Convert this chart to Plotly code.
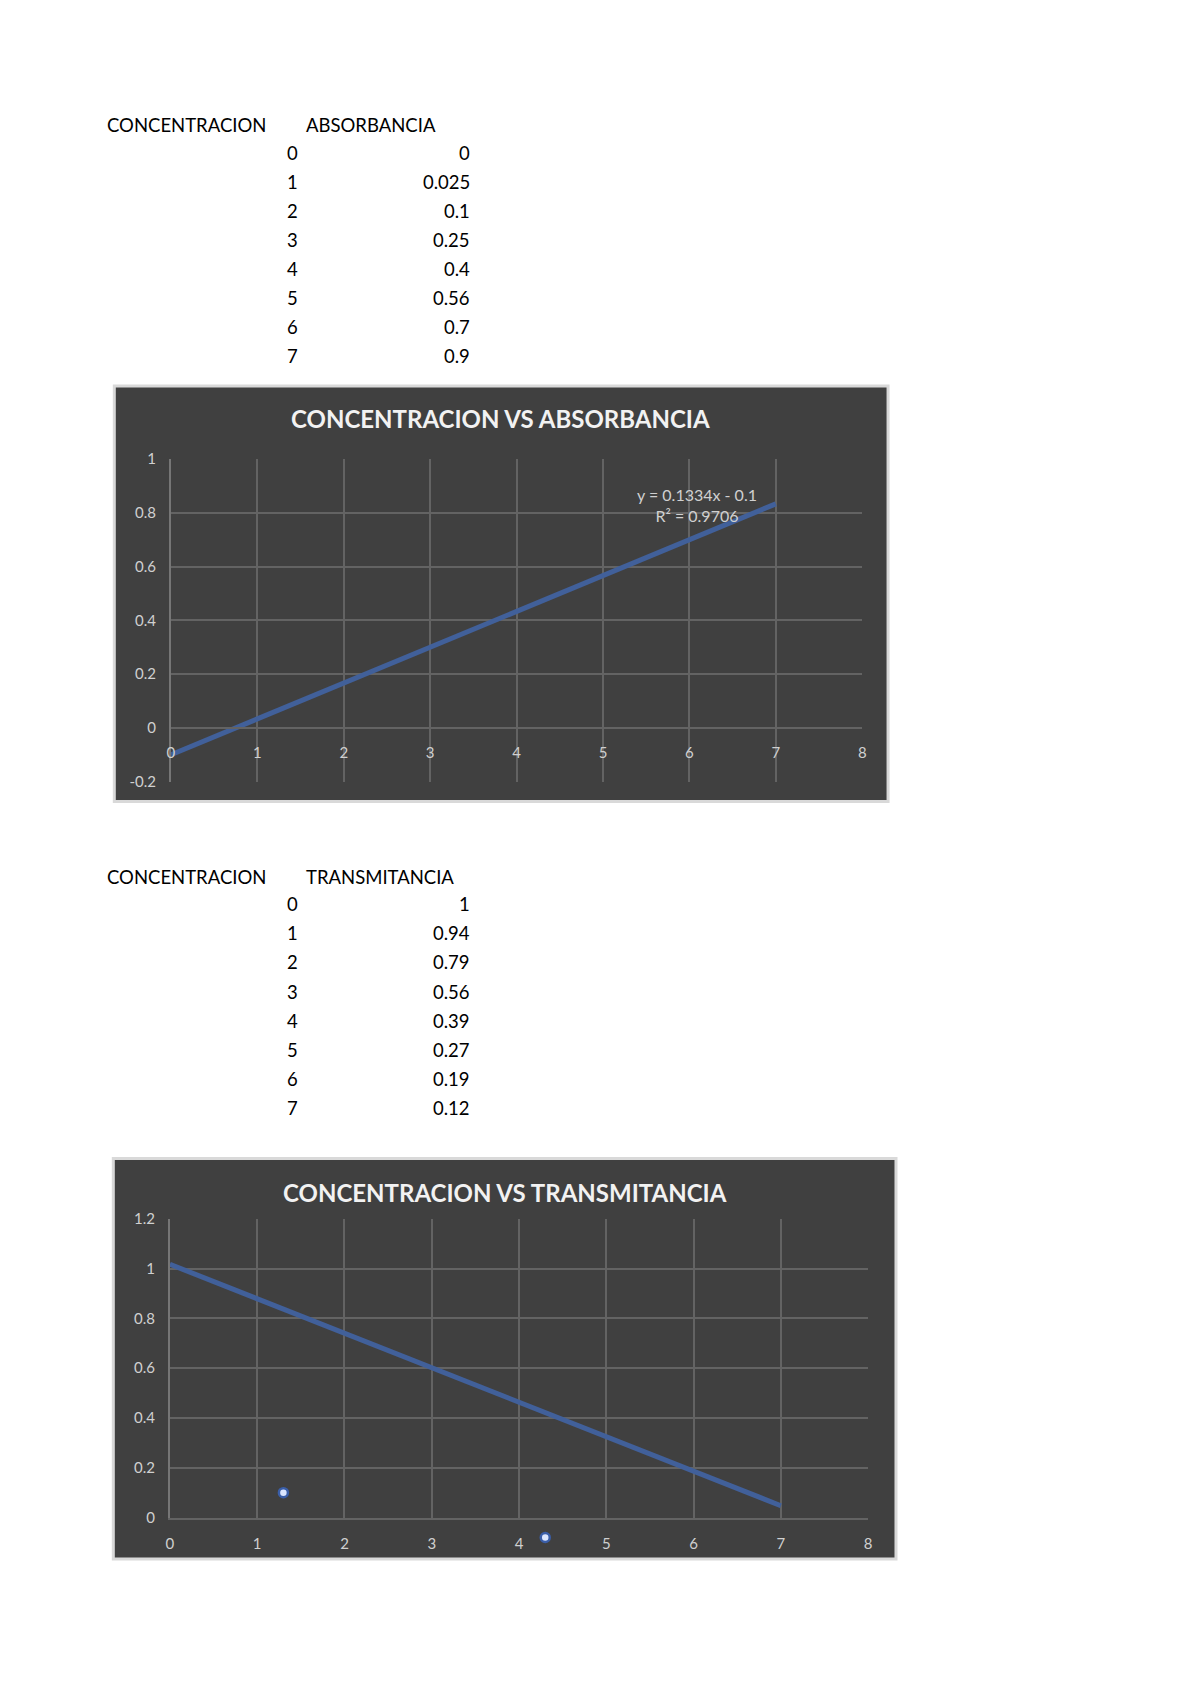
import numpy as np
import plotly.graph_objects as go

# datos de las tablas
concentracion = [0, 1, 2, 3, 4, 5, 6, 7]
absorbancia = [0, 0.025, 0.1, 0.25, 0.4, 0.56, 0.7, 0.9]
absorbancia_txt = ["0", "0.025", "0.1", "0.25", "0.4", "0.56", "0.7", "0.9"]
transmitancia = [1, 0.94, 0.79, 0.56, 0.39, 0.27, 0.19, 0.12]
transmitancia_txt = ["1", "0.94", "0.79", "0.56", "0.39", "0.27", "0.19", "0.12"]
# puntos sueltos que aparecen en el segundo grafico
sueltos_x = [1.3, 4.3]
sueltos_y = [0.1, -0.08]

# marcas de los ejes
x_ticks = [0, 1, 2, 3, 4, 5, 6, 7, 8]
y1_ticks = [-0.2, 0, 0.2, 0.4, 0.6, 0.8, 1]
y1_labels = ["-0.2", "0", "0.2", "0.4", "0.6", "0.8", "1"]
y2_ticks = [0, 0.2, 0.4, 0.6, 0.8, 1, 1.2]
y2_labels = ["0", "0.2", "0.4", "0.6", "0.8", "1", "1.2"]

# posiciones en pixeles de la pagina -> coordenadas paper
W, H = 1184, 1660
OX, OY = 13, 18
def px(x):
    return (x - OX) / W
def py(y):
    return 1 - (y - OY) / H

BG = "#404040"
GRID = "#636363"
TXT = "#d0d0d0"
LINEA = "#41609a"
FONT = "Lato"

# lineas de tendencia (minimos cuadrados, como Excel)
m1, b1 = np.polyfit(concentracion, absorbancia, 1)
pred = np.polyval([m1, b1], concentracion)
r2 = 1 - np.sum((np.array(absorbancia) - pred) ** 2) / np.sum((np.array(absorbancia) - np.mean(absorbancia)) ** 2)
m2, b2 = np.polyfit(concentracion, transmitancia, 1)
xt = [concentracion[0], concentracion[-1]]

fig = go.Figure()

fig.add_trace(go.Scatter(x=xt, y=[m1 * v + b1 for v in xt], mode="lines",
                         line=dict(color=LINEA, width=5), xaxis="x", yaxis="y",
                         showlegend=False, hoverinfo="skip"))
fig.add_trace(go.Scatter(x=xt, y=[m2 * v + b2 for v in xt], mode="lines",
                         line=dict(color=LINEA, width=5), xaxis="x2", yaxis="y2",
                         showlegend=False, hoverinfo="skip"))
fig.add_trace(go.Scatter(x=sueltos_x, y=sueltos_y, mode="markers",
                         marker=dict(size=9, color="#dbe6ff", line=dict(color="#3a5ea8", width=2.5)),
                         xaxis="x3", yaxis="y3", showlegend=False))

tick_font = dict(family=FONT, size=15, color=TXT)
ax_common = dict(showgrid=True, gridcolor=GRID, gridwidth=2, zeroline=False,
                 tickfont=tick_font, ticks="outside", tickcolor="rgba(0,0,0,0)",
                 fixedrange=True)

# grafico 1
y0_pos = py(464 + 326 * (1 / 1.2))
# grafico 2: eje auxiliar (misma escala) para los puntos bajo el eje x
esc2 = 1.2 / (1534 - 1232)
fig.update_layout(
    xaxis=dict(domain=[px(173), px(869)], range=[0, 8], tickvals=x_ticks, anchor="free",
               position=y0_pos, showline=True, linecolor=GRID, linewidth=2,
               ticklen=11, **ax_common),
    yaxis=dict(domain=[py(790), py(464)], range=[-0.2, 1], tickvals=y1_ticks,
               ticktext=y1_labels, anchor="x", showline=True, linecolor="#767676",
               linewidth=2, ticklen=10, **ax_common),
    xaxis2=dict(domain=[px(172), px(875)], range=[0, 8], tickvals=x_ticks, anchor="y2",
                showline=True, linecolor=GRID, linewidth=2, ticklen=11, **ax_common),
    yaxis2=dict(domain=[py(1534), py(1232)], range=[0, 1.2], tickvals=y2_ticks,
                ticktext=y2_labels, anchor="x2", showline=True, linecolor="#767676",
                linewidth=2, ticklen=10, **ax_common),
    xaxis3=dict(domain=[px(172), px(875)], range=[0, 8], anchor="y3", visible=False,
                fixedrange=True),
    yaxis3=dict(domain=[py(1576), py(1232)], range=[-(1576 - 1534) * esc2, 1.2],
                anchor="x3", visible=False, fixedrange=True),
)

shapes = [
    dict(type="rect", xref="paper", yref="paper", x0=px(116), x1=px(895),
         y0=py(810), y1=py(390), fillcolor=BG, line=dict(color="#d9d9d9", width=3),
         layer="below"),
    dict(type="rect", xref="paper", yref="paper", x0=px(115), x1=px(903),
         y0=py(1576), y1=py(1171), fillcolor=BG, line=dict(color="#d9d9d9", width=3),
         layer="below"),
]

annotations = []
tab_font = dict(family=FONT, size=18.5, color="black")

def tabla(y_header, y_row0, col2, valores):
    annotations.append(dict(x=px(107), y=py(y_header), xref="paper", yref="paper",
                            text="CONCENTRACION", showarrow=False, xanchor="left",
                            yanchor="middle", font=tab_font))
    annotations.append(dict(x=px(307), y=py(y_header), xref="paper", yref="paper",
                            text=col2, showarrow=False, xanchor="left",
                            yanchor="middle", font=tab_font))
    for i, (c, v) in enumerate(zip(concentracion, valores)):
        yy = py(y_row0 + 29.4 * i)
        annotations.append(dict(x=px(288), y=yy, xref="paper", yref="paper",
                                text=str(c), showarrow=False, xanchor="left",
                                yanchor="middle", font=tab_font))
        annotations.append(dict(x=px(476), y=yy, xref="paper", yref="paper",
                                text=v, showarrow=False, xanchor="right",
                                yanchor="middle", font=tab_font))

tabla(126, 154, "ABSORBANCIA", absorbancia_txt)
tabla(886, 914, "TRANSMITANCIA", transmitancia_txt)

title_font = dict(family=FONT, size=24, color="#f2f2f2")
annotations.append(dict(x=px(505), y=py(423), xref="paper", yref="paper",
                        text="<b>CONCENTRACION VS ABSORBANCIA</b>", showarrow=False,
                        xanchor="center", yanchor="middle", font=title_font))
annotations.append(dict(x=px(509), y=py(1205), xref="paper", yref="paper",
                        text="<b>CONCENTRACION VS TRANSMITANCIA</b>", showarrow=False,
                        xanchor="center", yanchor="middle", font=title_font))

ecuacion = "y = %.4fx - %g<br>R² = %.4f" % (m1, abs(b1), r2)
annotations.append(dict(x=6.09, y=0.83, xref="x", yref="y", text=ecuacion,
                        showarrow=False, xanchor="center", yanchor="middle",
                        font=dict(family=FONT, size=16, color=TXT)))

fig.update_layout(
    width=W, height=H,
    margin=dict(l=0, r=0, t=0, b=0),
    paper_bgcolor="white",
    plot_bgcolor="rgba(0,0,0,0)",
    shapes=shapes,
    annotations=annotations,
    showlegend=False,
)

fig.write_html("out.html")
